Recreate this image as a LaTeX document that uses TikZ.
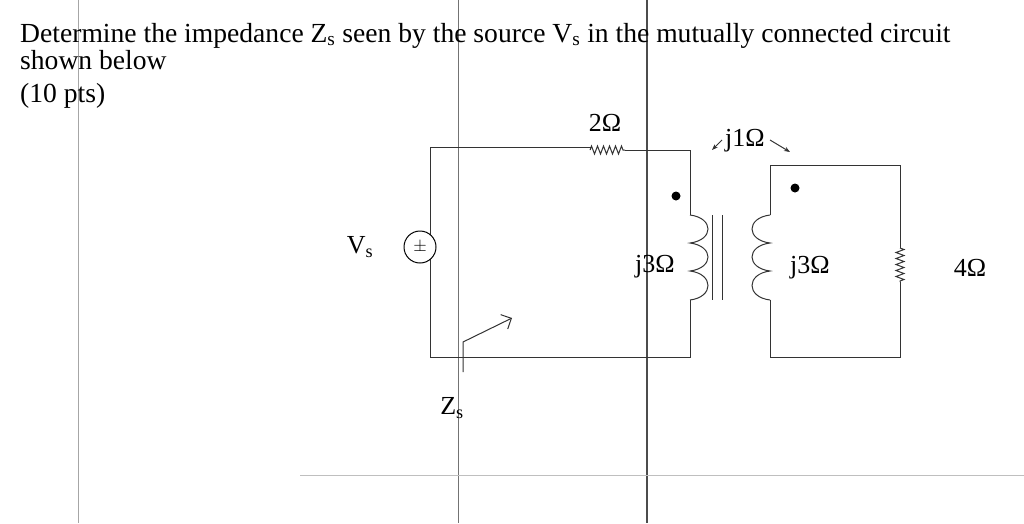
\documentclass[tikz,border=0pt]{standalone}
\usepackage{fontspec}
\setmainfont{Liberation Serif}
\usetikzlibrary{decorations.pathmorphing,arrows.meta}
\begin{document}
\begin{tikzpicture}[x=1pt,y=-1pt,
  wire/.style={line width=1pt,black!80},
  guide/.style={line width=0.8pt,black!35},
  lbl/.style={font=\fontsize{26}{28}\selectfont,inner sep=0pt},
  ttl/.style={font=\fontsize{27.6}{30}\selectfont,anchor=base west,inner sep=0pt},
  res/.style={decorate,decoration={zigzag,segment length=6pt,amplitude=4pt}},
  dotm/.style={circle,fill=black,inner sep=0pt,minimum size=9pt}]
\useasboundingbox (0,0) rectangle (1024,523);
\fill[white] (0,0) rectangle (1024,523);
% notebook lines
\draw[guide] (78,0) -- (78,523);
\draw[guide,black!55] (458,0) -- (458,523);
\draw[line width=1.2pt,black!70] (647,0) -- (647,523);
\draw[guide,black!25] (300,475) -- (1024,475);
% title
\node[ttl] (t1) at (20,42) {Determine the impedance Z\textsubscript{s} seen by the source V\textsubscript{s} in the mutually connected circuit};
\node[ttl] (t2) at (20,69) {shown below};
\node[ttl] (t3) at (20,102) {(10 pts)};
% coordinates
\coordinate (a) at (430,147);
\coordinate (r1) at (590,150);
\coordinate (r2) at (625,150);
\coordinate (b) at (690,150);
\coordinate (l1t) at (690,215);
\coordinate (l1b) at (690,300);
\coordinate (c) at (690,357);
\coordinate (d) at (430,357);
\coordinate (e) at (770,165);
\coordinate (l2t) at (770,215);
\coordinate (l2b) at (770,300);
\coordinate (f) at (770,357);
\coordinate (g) at (900,165);
\coordinate (r3) at (900,248);
\coordinate (r4) at (900,282);
\coordinate (h) at (900,357);
% left loop
\draw[wire] (d) -- (a) -- (r1 |- a) -- (r1);
\draw[wire,res] (r1) -- (r2);
\draw[wire] (r2) -- (b) -- (l1t);
\draw[wire] (l1t) .. controls (714,218) and (714,240) .. (690,243)
 .. controls (714,246) and (714,268) .. (690,271)
 .. controls (714,274) and (714,297) .. (l1b);
\draw[wire] (l1b) -- (c) -- (d);
% source
\node[circle,draw,line width=1pt,fill=white,minimum size=32pt,inner sep=0pt,font=\fontsize{18}{18}\selectfont] (vs) at (420,247) {$\pm$};
% core
\draw[wire] (712,215) -- (712,300);
\draw[wire] (722,215) -- (722,300);
% right loop
\draw[wire] (l2t) -- (e) -- (g) -- (r3);
\draw[wire,res] (r3) -- (r4);
\draw[wire] (r4) -- (h) -- (f) -- (l2b);
\draw[wire] (l2t) .. controls (746,218) and (746,240) .. (770,243)
 .. controls (746,246) and (746,268) .. (770,271)
 .. controls (746,274) and (746,297) .. (l2b);
% dots
\node[dotm] (d1) at (676,196) {};
\node[dotm] (d2) at (795,188) {};
% labels
\node[lbl] (L2) at (605,123) {2Ω};
\node[lbl] (Lj1) at (745,141) {j1Ω};
\coordinate (m1) at (712,150);
\coordinate (m2) at (790,152);
\draw[wire,-{Stealth[length=6pt]}] (722,140) -- (m1);
\draw[wire,-{Stealth[length=6pt]}] (770,140) -- (m2);
\node[lbl] (Lj3a) at (655,267) {j3Ω};
\node[lbl] (Lj3b) at (810,268) {j3Ω};
\node[lbl] (L4) at (970,268) {4Ω};
\node[lbl] (Lvs) at (360,247) {V\textsubscript{s}};
\node[lbl] (Lzs) at (452,408) {Z\textsubscript{s}};
\coordinate (z1) at (463,372);
\coordinate (z2) at (463,342);
\coordinate (z3) at (512,318);
\draw[wire,-{Straight Barb[length=8pt]}] (z1) -- (z2) -- (z3);
\end{tikzpicture}
\end{document}
